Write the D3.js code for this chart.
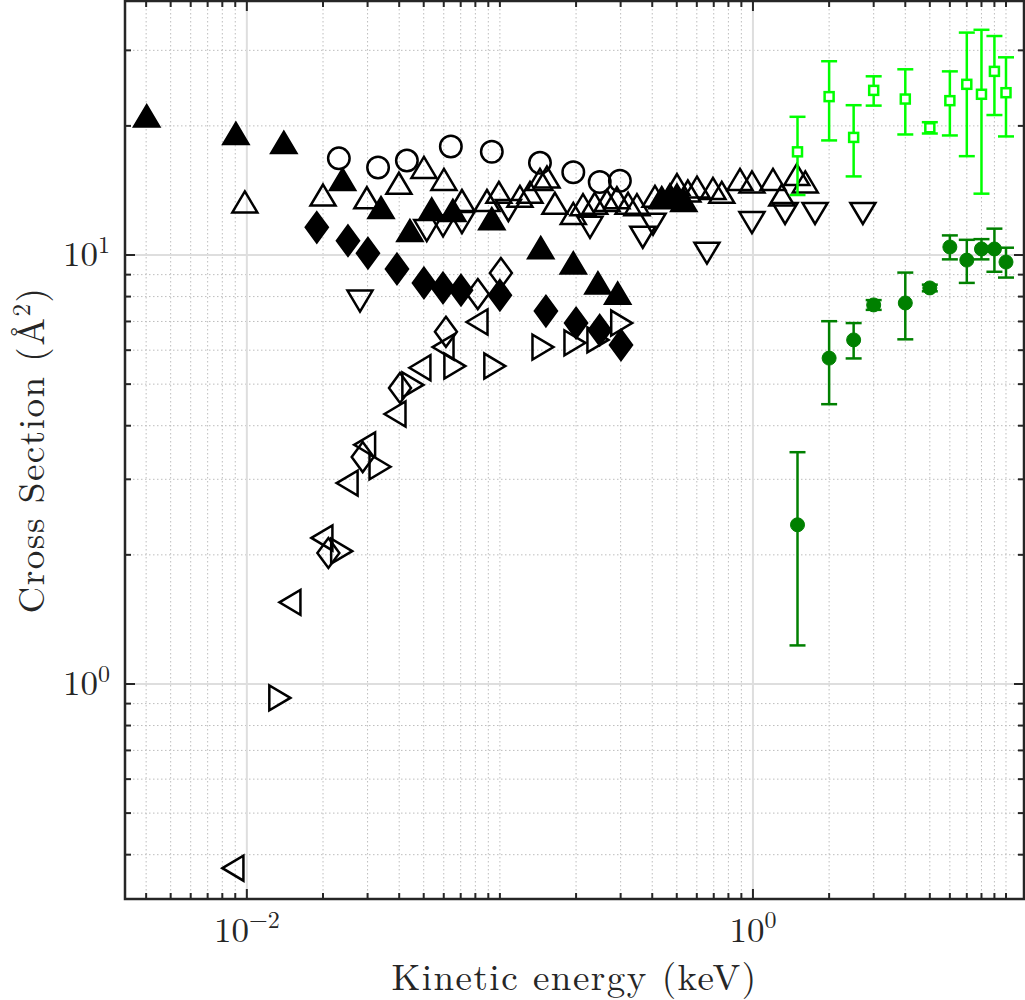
<!DOCTYPE html>
<html>
<head>
<meta charset="utf-8">
<script src="https://cdn.jsdelivr.net/npm/d3@7"></script>
<style>
  body { margin: 0; background: #fff; }
  svg text { font-family: "Latin Modern Roman", "CMU Serif", "Liberation Serif", "DejaVu Serif", serif; fill: #262626; }
</style>
</head>
<body>
<svg id="chart" width="1025" height="1000"></svg>
<script>
// axis limits and ticks
const xLimits = [0.0033, 11.78];
const yLimits = [0.3153, 39.1];
const xTickValues = [0.01, 1];
const xTickExp = ["\u22122", "0"];
const yTickValues = [1, 10];
const yTickExp = ["0", "1"];

// black series: [energy keV, cross section A^2]
const triUpFilled = [[0.00402, 21.1], [0.00905, 19.2], [0.0140, 18.3], [0.0239, 15.0], [0.0339, 12.9], [0.0441, 11.4],
  [0.0538, 12.8], [0.0652, 12.7], [0.0929, 12.15], [0.145, 10.4], [0.195, 9.58], [0.244, 8.61], [0.292, 8.15],
  [0.436, 13.6], [0.470, 13.8], [0.501, 13.8], [0.533, 13.4]];
const circleOpen = [[0.0231, 16.8], [0.0330, 16.0], [0.0429, 16.6], [0.0640, 17.9], [0.0929, 17.4], [0.144, 16.4],
  [0.195, 15.6], [0.248, 14.8], [0.298, 14.9]];
const diamondFilled = [[0.0189, 11.6], [0.0251, 10.8], [0.0301, 10.1], [0.0392, 9.28], [0.0501, 8.61], [0.0596, 8.38],
  [0.0702, 8.28], [0.100, 8.06], [0.152, 7.40], [0.200, 6.94], [0.248, 6.68], [0.301, 6.17]];
const diamondOpen = [[0.0210, 2.02], [0.0287, 3.38], [0.0403, 4.90], [0.0612, 6.62], [0.0818, 8.11], [0.1009, 9.08]];
const triLeftOpen = [[0.00881, 0.372], [0.0148, 1.55], [0.0198, 2.19], [0.0249, 2.94], [0.0292, 3.61], [0.0385, 4.26],
  [0.0483, 5.46], [0.0596, 6.10], [0.0812, 6.98]];
const triRightOpen = [[0.0135, 0.928], [0.0237, 2.04], [0.0336, 3.21], [0.0453, 4.98], [0.0664, 5.51], [0.0955, 5.51],
  [0.148, 6.10], [0.198, 6.24], [0.244, 6.34], [0.303, 6.94]];
const triDownOpen = [[0.0280, 7.81], [0.0514, 11.4], [0.0596, 11.7], [0.0708, 11.9], [0.108, 12.7], [0.227, 11.6],
  [0.367, 11.0], [0.403, 11.8], [0.658, 10.1], [0.991, 11.9], [1.34, 12.5], [1.76, 12.5], [2.72, 12.5]];
const triUpOpen = [[0.00982, 13.3], [0.0200, 13.8], [0.0298, 13.6], [0.0399, 14.7], [0.0501, 16.0], [0.0601, 15.0],
  [0.0708, 13.4], [0.0889, 13.4], [0.0991, 14.0], [0.120, 13.7], [0.1315, 14.0], [0.144, 15.0], [0.1535, 15.2],
  [0.165, 13.2], [0.195, 12.5], [0.213, 13.1], [0.237, 13.2], [0.265, 13.4], [0.290, 13.6], [0.321, 13.2],
  [0.348, 13.1], [0.410, 13.7], [0.501, 14.6], [0.553, 14.1], [0.601, 14.4], [0.695, 14.3], [0.753, 14.0],
  [0.889, 15.0], [0.991, 14.8], [1.20, 15.0], [1.30, 13.8], [1.49, 15.4], [1.61, 14.8]];

// green series with error bars
const errEnergy = [1.5, 2, 2.5, 3, 4, 5, 6, 7, 8, 9, 10];
const limeSigma = [17.4, 23.4, 18.8, 24.2, 23.1, 19.8, 22.9, 25.0, 23.7, 26.8, 23.9];
const limeErr = [3.6, 4.9, 3.55, 1.9, 4.0, 0.6, 3.9, 8.0, 9.8, 5.6, 5.0];
const greenSigma = [2.35, 5.75, 6.34, 7.65, 7.73, 8.38, 10.44, 9.73, 10.33, 10.33, 9.63];
const greenErr = [1.12, 1.26, 0.6, 0.2, 1.37, 0.15, 0.67, 1.12, 0.56, 1.19, 0.77];

const plotL = 125, plotR = 1024, plotT = 1, plotB = 899;
const svg = d3.select("#chart");

const x = d3.scaleLog().domain(xLimits).range([plotL, plotR]);
const y = d3.scaleLog().domain(yLimits).range([plotB, plotT]);

const isMajor = (v, majors) => majors.some(m => Math.abs(v / m - 1) < 1e-9);
const xMinor = x.ticks().filter(v => !isMajor(v, xTickValues));
const yMinor = y.ticks().filter(v => !isMajor(v, yTickValues));

// grid
const grid = svg.append("g");
grid.selectAll(".gxm").data(xMinor).enter().append("line")
  .attr("x1", d => x(d)).attr("x2", d => x(d)).attr("y1", plotT).attr("y2", plotB)
  .attr("stroke", "#bdbdbd").attr("stroke-width", 1).attr("stroke-dasharray", "1.5,2.5");
grid.selectAll(".gym").data(yMinor).enter().append("line")
  .attr("y1", d => y(d)).attr("y2", d => y(d)).attr("x1", plotL).attr("x2", plotR)
  .attr("stroke", "#bdbdbd").attr("stroke-width", 1).attr("stroke-dasharray", "1.5,2.5");
grid.selectAll(".gxM").data(xTickValues).enter().append("line")
  .attr("x1", d => x(d)).attr("x2", d => x(d)).attr("y1", plotT).attr("y2", plotB)
  .attr("stroke", "#dedede").attr("stroke-width", 2);
grid.selectAll(".gyM").data(yTickValues).enter().append("line")
  .attr("y1", d => y(d)).attr("y2", d => y(d)).attr("x1", plotL).attr("x2", plotR)
  .attr("stroke", "#dedede").attr("stroke-width", 2);

// marker shapes
function shape(kind) {
  const w = 12.5, h = 10.5;
  switch (kind) {
    case "up": return `M0,${-h}L${w},${h}L${-w},${h}Z`;
    case "down": return `M0,${h}L${w},${-h}L${-w},${-h}Z`;
    case "left": return `M${-h},0L${h},${-w}L${h},${w}Z`;
    case "right": return `M${h},0L${-h},${-w}L${-h},${w}Z`;
    case "diamond": return "M0,-15L11,0L0,15L-11,0Z";
    case "circle": return "M10.75,0A10.75,10.75 0 1,1 -10.75,0A10.75,10.75 0 1,1 10.75,0Z";
  }
}

const series = [
  { data: triUpOpen, kind: "up", fill: "none" },
  { data: triDownOpen, kind: "down", fill: "none" },
  { data: circleOpen, kind: "circle", fill: "none" },
  { data: triUpFilled, kind: "up", fill: "#000" },
  { data: diamondFilled, kind: "diamond", fill: "#000" },
  { data: diamondOpen, kind: "diamond", fill: "none" },
  { data: triLeftOpen, kind: "left", fill: "none" },
  { data: triRightOpen, kind: "right", fill: "none" }
];

const marks = svg.append("g");
series.forEach(s => {
  marks.append("g").selectAll("path").data(s.data).enter().append("path")
    .attr("transform", d => `translate(${x(d[0])},${y(d[1])})`)
    .attr("d", shape(s.kind))
    .attr("fill", s.fill)
    .attr("stroke", "#000")
    .attr("stroke-width", 2.5)
    .attr("stroke-linejoin", "miter");
});

// error bar series
function drawErrorSeries(sig, err, color, marker) {
  const rows = errEnergy.map((e, i) => ({ e: e, v: sig[i], lo: sig[i] - err[i], hi: sig[i] + err[i] }));
  const g = svg.append("g");
  const cap = 8;
  g.selectAll(".bar").data(rows).enter().append("line")
    .attr("x1", d => x(d.e)).attr("x2", d => x(d.e)).attr("y1", d => y(d.lo)).attr("y2", d => y(d.hi))
    .attr("stroke", color).attr("stroke-width", 2.5);
  g.selectAll(".capLo").data(rows).enter().append("line")
    .attr("x1", d => x(d.e) - cap).attr("x2", d => x(d.e) + cap).attr("y1", d => y(d.lo)).attr("y2", d => y(d.lo))
    .attr("stroke", color).attr("stroke-width", 2.5);
  g.selectAll(".capHi").data(rows).enter().append("line")
    .attr("x1", d => x(d.e) - cap).attr("x2", d => x(d.e) + cap).attr("y1", d => y(d.hi)).attr("y2", d => y(d.hi))
    .attr("stroke", color).attr("stroke-width", 2.5);
  if (marker === "square") {
    g.selectAll(".mk").data(rows).enter().append("rect")
      .attr("x", d => x(d.e) - 4.5).attr("y", d => y(d.v) - 4.5).attr("width", 9).attr("height", 9)
      .attr("fill", "#fff").attr("stroke", color).attr("stroke-width", 2.5);
  } else {
    g.selectAll(".mk").data(rows).enter().append("circle")
      .attr("cx", d => x(d.e)).attr("cy", d => y(d.v)).attr("r", 7)
      .attr("fill", color).attr("stroke", color).attr("stroke-width", 1);
  }
}
drawErrorSeries(limeSigma, limeErr, "#00ff00", "square");
drawErrorSeries(greenSigma, greenErr, "#008000", "circle");

// axes box and ticks
const axisColor = "#262626";
const axes = svg.append("g");
axes.append("rect").attr("x", plotL).attr("y", plotT).attr("width", plotR - plotL).attr("height", plotB - plotT)
  .attr("fill", "none").attr("stroke", axisColor).attr("stroke-width", 2.5);

function tickSet(values, len, horizontal) {
  values.forEach(v => {
    if (horizontal) {
      const px = x(v);
      axes.append("line").attr("x1", px).attr("x2", px).attr("y1", plotB).attr("y2", plotB - len).attr("stroke", axisColor).attr("stroke-width", 2);
      axes.append("line").attr("x1", px).attr("x2", px).attr("y1", plotT).attr("y2", plotT + len).attr("stroke", axisColor).attr("stroke-width", 2);
    } else {
      const py = y(v);
      axes.append("line").attr("y1", py).attr("y2", py).attr("x1", plotL).attr("x2", plotL + len).attr("stroke", axisColor).attr("stroke-width", 2);
      axes.append("line").attr("y1", py).attr("y2", py).attr("x1", plotR).attr("x2", plotR - len).attr("stroke", axisColor).attr("stroke-width", 2);
    }
  });
}
tickSet(xMinor, 6, true);
tickSet(xTickValues, 10, true);
tickSet(yMinor, 6, false);
tickSet(yTickValues, 10, false);

// tick labels
xTickValues.forEach((v, i) => {
  const t = svg.append("text").attr("x", x(v)).attr("y", plotB + 43).attr("text-anchor", "middle").style("font-size", "35px");
  t.append("tspan").text("10");
  t.append("tspan").attr("dy", -14).style("font-size", "24px").text(xTickExp[i]);
});
yTickValues.forEach((v, i) => {
  const t = svg.append("text").attr("x", 110).attr("y", y(v) + 11).attr("text-anchor", "end").style("font-size", "35px");
  t.append("tspan").text("10");
  t.append("tspan").attr("dy", -13).style("font-size", "24px").text(yTickExp[i]);
});

// axis labels
svg.append("text").attr("x", (plotL + plotR) / 2).attr("y", 990).attr("text-anchor", "middle")
  .style("font-size", "37px").style("letter-spacing", "1.5px").text("Kinetic energy (keV)");

const yl = svg.append("text").attr("transform", `translate(44,${(plotT + plotB) / 2}) rotate(-90)`)
  .attr("text-anchor", "middle").style("font-size", "37px").style("letter-spacing", "1.5px");
yl.append("tspan").text("Cross Section (\u00c5");
yl.append("tspan").attr("dy", -14).style("font-size", "25px").text("2");
yl.append("tspan").attr("dy", 14).text(")");
</script>
</body>
</html>
